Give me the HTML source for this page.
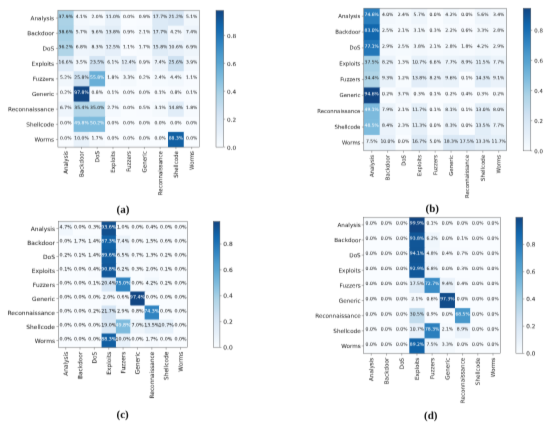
<!DOCTYPE html>
<html lang="en"><head><meta charset="utf-8"><title>Confusion matrices</title>
<style>
html,body{margin:0;padding:0;background:#fff;}
body{width:550px;height:426px;overflow:hidden;}
svg{display:block;font-family:"DejaVu Sans","Liberation Sans",sans-serif;}
text{stroke-width:0.03px;stroke-linejoin:round}
.d{fill:#1c1c1c;stroke:#1c1c1c}.l{fill:#f7fbff;stroke:#f7fbff}
</style></head><body>
<svg width="550" height="426" viewBox="0 0 550 426" shape-rendering="geometricPrecision" text-rendering="geometricPrecision">
<defs><filter id="bl" x="0" y="0" width="1" height="1" color-interpolation-filters="sRGB"><feConvolveMatrix order="3" kernelMatrix="0.0056 0.1273 0.0056 0.0292 0.6647 0.0292 0.0056 0.1273 0.0056" edgeMode="duplicate" preserveAlpha="true"/></filter></defs><g filter="url(#bl)"><rect width="550" height="426" fill="#fff"/>
<g>
<rect x="57.9" y="10.5" width="16.43" height="15.88" fill="#abd2e6"/>
<rect x="73.63" y="10.5" width="16.43" height="15.88" fill="#f3f8fd"/>
<rect x="89.37" y="10.5" width="16.43" height="15.88" fill="#f6fafe"/>
<rect x="105.1" y="10.5" width="16.43" height="15.88" fill="#e7f1fa"/>
<rect x="120.83" y="10.5" width="16.43" height="15.88" fill="#f9fcff"/>
<rect x="136.57" y="10.5" width="16.43" height="15.88" fill="#f8fbff"/>
<rect x="152.3" y="10.5" width="16.43" height="15.88" fill="#dceaf6"/>
<rect x="168.03" y="10.5" width="16.43" height="15.88" fill="#d7e6f4"/>
<rect x="183.77" y="10.5" width="15.73" height="15.88" fill="#f1f7fc"/>
<rect x="57.9" y="25.68" width="16.43" height="15.88" fill="#a8d1e6"/>
<rect x="73.63" y="25.68" width="16.43" height="15.88" fill="#f0f6fc"/>
<rect x="89.37" y="25.68" width="16.43" height="15.88" fill="#e9f2fa"/>
<rect x="105.1" y="25.68" width="16.43" height="15.88" fill="#e2eef8"/>
<rect x="120.83" y="25.68" width="16.43" height="15.88" fill="#f8fbff"/>
<rect x="136.57" y="25.68" width="16.43" height="15.88" fill="#f6fafe"/>
<rect x="152.3" y="25.68" width="16.43" height="15.88" fill="#dceaf6"/>
<rect x="168.03" y="25.68" width="16.43" height="15.88" fill="#f3f8fd"/>
<rect x="183.77" y="25.68" width="15.73" height="15.88" fill="#edf4fb"/>
<rect x="57.9" y="40.86" width="16.43" height="15.88" fill="#b1d5e8"/>
<rect x="73.63" y="40.86" width="16.43" height="15.88" fill="#eef5fc"/>
<rect x="89.37" y="40.86" width="16.43" height="15.88" fill="#ecf4fb"/>
<rect x="105.1" y="40.86" width="16.43" height="15.88" fill="#e5eff9"/>
<rect x="120.83" y="40.86" width="16.43" height="15.88" fill="#f8fbff"/>
<rect x="136.57" y="40.86" width="16.43" height="15.88" fill="#f6fafe"/>
<rect x="152.3" y="40.86" width="16.43" height="15.88" fill="#dfecf7"/>
<rect x="168.03" y="40.86" width="16.43" height="15.88" fill="#e8f1fa"/>
<rect x="183.77" y="40.86" width="15.73" height="15.88" fill="#eef5fb"/>
<rect x="57.9" y="56.03" width="16.43" height="15.88" fill="#deebf7"/>
<rect x="73.63" y="56.03" width="16.43" height="15.88" fill="#f3f8fd"/>
<rect x="89.37" y="56.03" width="16.43" height="15.88" fill="#d3e4f3"/>
<rect x="105.1" y="56.03" width="16.43" height="15.88" fill="#eff6fc"/>
<rect x="120.83" y="56.03" width="16.43" height="15.88" fill="#e5eff9"/>
<rect x="136.57" y="56.03" width="16.43" height="15.88" fill="#f8fbff"/>
<rect x="152.3" y="56.03" width="16.43" height="15.88" fill="#edf4fb"/>
<rect x="168.03" y="56.03" width="16.43" height="15.88" fill="#cee1f1"/>
<rect x="183.77" y="56.03" width="15.73" height="15.88" fill="#f3f8fd"/>
<rect x="57.9" y="71.21" width="16.43" height="15.88" fill="#f1f7fc"/>
<rect x="73.63" y="71.21" width="16.43" height="15.88" fill="#cee1f1"/>
<rect x="89.37" y="71.21" width="16.43" height="15.88" fill="#6aafd7"/>
<rect x="105.1" y="71.21" width="16.43" height="15.88" fill="#f6fafe"/>
<rect x="120.83" y="71.21" width="16.43" height="15.88" fill="#f4f9fd"/>
<rect x="136.57" y="71.21" width="16.43" height="15.88" fill="#f9fcff"/>
<rect x="152.3" y="71.21" width="16.43" height="15.88" fill="#f5fafe"/>
<rect x="168.03" y="71.21" width="16.43" height="15.88" fill="#f2f8fd"/>
<rect x="183.77" y="71.21" width="15.73" height="15.88" fill="#f8fbff"/>
<rect x="57.9" y="86.39" width="16.43" height="15.88" fill="#f9fcff"/>
<rect x="73.63" y="86.39" width="16.43" height="15.88" fill="#114582"/>
<rect x="89.37" y="86.39" width="16.43" height="15.88" fill="#f8fbff"/>
<rect x="105.1" y="86.39" width="16.43" height="15.88" fill="#f9fcff"/>
<rect x="120.83" y="86.39" width="16.43" height="15.88" fill="#f9fcff"/>
<rect x="136.57" y="86.39" width="16.43" height="15.88" fill="#f9fcff"/>
<rect x="152.3" y="86.39" width="16.43" height="15.88" fill="#f9fcff"/>
<rect x="168.03" y="86.39" width="16.43" height="15.88" fill="#f8fbff"/>
<rect x="183.77" y="86.39" width="15.73" height="15.88" fill="#f9fcff"/>
<rect x="57.9" y="101.57" width="16.43" height="15.88" fill="#eef5fc"/>
<rect x="73.63" y="101.57" width="16.43" height="15.88" fill="#b3d6e9"/>
<rect x="89.37" y="101.57" width="16.43" height="15.88" fill="#b5d7e9"/>
<rect x="105.1" y="101.57" width="16.43" height="15.88" fill="#f4f9fe"/>
<rect x="120.83" y="101.57" width="16.43" height="15.88" fill="#f9fcff"/>
<rect x="136.57" y="101.57" width="16.43" height="15.88" fill="#f8fbff"/>
<rect x="152.3" y="101.57" width="16.43" height="15.88" fill="#f4f9fd"/>
<rect x="168.03" y="101.57" width="16.43" height="15.88" fill="#e1edf8"/>
<rect x="183.77" y="101.57" width="15.73" height="15.88" fill="#f6fafe"/>
<rect x="57.9" y="116.74" width="16.43" height="15.88" fill="#f9fcff"/>
<rect x="73.63" y="116.74" width="16.43" height="15.88" fill="#7ebbdd"/>
<rect x="89.37" y="116.74" width="16.43" height="15.88" fill="#7dbbdd"/>
<rect x="105.1" y="116.74" width="16.43" height="15.88" fill="#f9fcff"/>
<rect x="120.83" y="116.74" width="16.43" height="15.88" fill="#f9fcff"/>
<rect x="136.57" y="116.74" width="16.43" height="15.88" fill="#f9fcff"/>
<rect x="152.3" y="116.74" width="16.43" height="15.88" fill="#f9fcff"/>
<rect x="168.03" y="116.74" width="16.43" height="15.88" fill="#f9fcff"/>
<rect x="183.77" y="116.74" width="15.73" height="15.88" fill="#f9fcff"/>
<rect x="57.9" y="131.92" width="16.43" height="15.18" fill="#f9fcff"/>
<rect x="73.63" y="131.92" width="16.43" height="15.18" fill="#e9f2fa"/>
<rect x="89.37" y="131.92" width="16.43" height="15.18" fill="#f6fafe"/>
<rect x="105.1" y="131.92" width="16.43" height="15.18" fill="#f9fcff"/>
<rect x="120.83" y="131.92" width="16.43" height="15.18" fill="#f9fcff"/>
<rect x="136.57" y="131.92" width="16.43" height="15.18" fill="#f9fcff"/>
<rect x="152.3" y="131.92" width="16.43" height="15.18" fill="#f9fcff"/>
<rect x="168.03" y="131.92" width="16.43" height="15.18" fill="#1160a3"/>
<rect x="183.77" y="131.92" width="15.73" height="15.18" fill="#f9fcff"/>
<rect x="57.9" y="10.5" width="141.6" height="136.6" fill="none" stroke="#555" stroke-width="0.45"/>
<g font-size="4.35" text-anchor="middle">
<text transform="translate(65.77 17.95) scale(1.04 1) rotate(.03)" class="d">37.9%</text>
<text transform="translate(81.5 17.95) scale(1.04 1) rotate(.03)" class="d">4.1%</text>
<text transform="translate(97.23 17.95) scale(1.04 1) rotate(.03)" class="d">2.0%</text>
<text transform="translate(112.97 17.95) scale(1.04 1) rotate(.03)" class="d">11.0%</text>
<text transform="translate(128.7 17.95) scale(1.04 1) rotate(.03)" class="d">0.0%</text>
<text transform="translate(144.43 17.95) scale(1.04 1) rotate(.03)" class="d">0.9%</text>
<text transform="translate(160.17 17.95) scale(1.04 1) rotate(.03)" class="d">17.7%</text>
<text transform="translate(175.9 17.95) scale(1.04 1) rotate(.03)" class="d">21.2%</text>
<text transform="translate(191.63 17.95) scale(1.04 1) rotate(.03)" class="d">5.1%</text>
<text transform="translate(65.77 33.13) scale(1.04 1) rotate(.03)" class="d">38.6%</text>
<text transform="translate(81.5 33.13) scale(1.04 1) rotate(.03)" class="d">5.7%</text>
<text transform="translate(97.23 33.13) scale(1.04 1) rotate(.03)" class="d">9.6%</text>
<text transform="translate(112.97 33.13) scale(1.04 1) rotate(.03)" class="d">13.8%</text>
<text transform="translate(128.7 33.13) scale(1.04 1) rotate(.03)" class="d">0.9%</text>
<text transform="translate(144.43 33.13) scale(1.04 1) rotate(.03)" class="d">2.1%</text>
<text transform="translate(160.17 33.13) scale(1.04 1) rotate(.03)" class="d">17.7%</text>
<text transform="translate(175.9 33.13) scale(1.04 1) rotate(.03)" class="d">4.2%</text>
<text transform="translate(191.63 33.13) scale(1.04 1) rotate(.03)" class="d">7.4%</text>
<text transform="translate(65.77 48.31) scale(1.04 1) rotate(.03)" class="d">36.2%</text>
<text transform="translate(81.5 48.31) scale(1.04 1) rotate(.03)" class="d">6.8%</text>
<text transform="translate(97.23 48.31) scale(1.04 1) rotate(.03)" class="d">8.3%</text>
<text transform="translate(112.97 48.31) scale(1.04 1) rotate(.03)" class="d">12.5%</text>
<text transform="translate(128.7 48.31) scale(1.04 1) rotate(.03)" class="d">1.1%</text>
<text transform="translate(144.43 48.31) scale(1.04 1) rotate(.03)" class="d">1.7%</text>
<text transform="translate(160.17 48.31) scale(1.04 1) rotate(.03)" class="d">15.8%</text>
<text transform="translate(175.9 48.31) scale(1.04 1) rotate(.03)" class="d">10.6%</text>
<text transform="translate(191.63 48.31) scale(1.04 1) rotate(.03)" class="d">6.9%</text>
<text transform="translate(65.77 63.49) scale(1.04 1) rotate(.03)" class="d">16.6%</text>
<text transform="translate(81.5 63.49) scale(1.04 1) rotate(.03)" class="d">3.5%</text>
<text transform="translate(97.23 63.49) scale(1.04 1) rotate(.03)" class="d">23.5%</text>
<text transform="translate(112.97 63.49) scale(1.04 1) rotate(.03)" class="d">6.1%</text>
<text transform="translate(128.7 63.49) scale(1.04 1) rotate(.03)" class="d">12.4%</text>
<text transform="translate(144.43 63.49) scale(1.04 1) rotate(.03)" class="d">0.9%</text>
<text transform="translate(160.17 63.49) scale(1.04 1) rotate(.03)" class="d">7.4%</text>
<text transform="translate(175.9 63.49) scale(1.04 1) rotate(.03)" class="d">25.6%</text>
<text transform="translate(191.63 63.49) scale(1.04 1) rotate(.03)" class="d">3.9%</text>
<text transform="translate(65.77 78.67) scale(1.04 1) rotate(.03)" class="d">5.2%</text>
<text transform="translate(81.5 78.67) scale(1.04 1) rotate(.03)" class="d">25.8%</text>
<text transform="translate(97.23 78.67) scale(1.04 1) rotate(.03)" class="l">55.8%</text>
<text transform="translate(112.97 78.67) scale(1.04 1) rotate(.03)" class="d">1.8%</text>
<text transform="translate(128.7 78.67) scale(1.04 1) rotate(.03)" class="d">3.3%</text>
<text transform="translate(144.43 78.67) scale(1.04 1) rotate(.03)" class="d">0.2%</text>
<text transform="translate(160.17 78.67) scale(1.04 1) rotate(.03)" class="d">2.4%</text>
<text transform="translate(175.9 78.67) scale(1.04 1) rotate(.03)" class="d">4.4%</text>
<text transform="translate(191.63 78.67) scale(1.04 1) rotate(.03)" class="d">1.1%</text>
<text transform="translate(65.77 93.84) scale(1.04 1) rotate(.03)" class="d">0.2%</text>
<text transform="translate(81.5 93.84) scale(1.04 1) rotate(.03)" class="l">97.8%</text>
<text transform="translate(97.23 93.84) scale(1.04 1) rotate(.03)" class="d">0.8%</text>
<text transform="translate(112.97 93.84) scale(1.04 1) rotate(.03)" class="d">0.1%</text>
<text transform="translate(128.7 93.84) scale(1.04 1) rotate(.03)" class="d">0.0%</text>
<text transform="translate(144.43 93.84) scale(1.04 1) rotate(.03)" class="d">0.0%</text>
<text transform="translate(160.17 93.84) scale(1.04 1) rotate(.03)" class="d">0.1%</text>
<text transform="translate(175.9 93.84) scale(1.04 1) rotate(.03)" class="d">0.8%</text>
<text transform="translate(191.63 93.84) scale(1.04 1) rotate(.03)" class="d">0.1%</text>
<text transform="translate(65.77 109.02) scale(1.04 1) rotate(.03)" class="d">6.7%</text>
<text transform="translate(81.5 109.02) scale(1.04 1) rotate(.03)" class="d">35.4%</text>
<text transform="translate(97.23 109.02) scale(1.04 1) rotate(.03)" class="d">35.0%</text>
<text transform="translate(112.97 109.02) scale(1.04 1) rotate(.03)" class="d">2.7%</text>
<text transform="translate(128.7 109.02) scale(1.04 1) rotate(.03)" class="d">0.0%</text>
<text transform="translate(144.43 109.02) scale(1.04 1) rotate(.03)" class="d">0.5%</text>
<text transform="translate(160.17 109.02) scale(1.04 1) rotate(.03)" class="d">3.1%</text>
<text transform="translate(175.9 109.02) scale(1.04 1) rotate(.03)" class="d">14.8%</text>
<text transform="translate(191.63 109.02) scale(1.04 1) rotate(.03)" class="d">1.8%</text>
<text transform="translate(65.77 124.2) scale(1.04 1) rotate(.03)" class="d">0.0%</text>
<text transform="translate(81.5 124.2) scale(1.04 1) rotate(.03)" class="l">49.8%</text>
<text transform="translate(97.23 124.2) scale(1.04 1) rotate(.03)" class="l">50.2%</text>
<text transform="translate(112.97 124.2) scale(1.04 1) rotate(.03)" class="d">0.0%</text>
<text transform="translate(128.7 124.2) scale(1.04 1) rotate(.03)" class="d">0.0%</text>
<text transform="translate(144.43 124.2) scale(1.04 1) rotate(.03)" class="d">0.0%</text>
<text transform="translate(160.17 124.2) scale(1.04 1) rotate(.03)" class="d">0.0%</text>
<text transform="translate(175.9 124.2) scale(1.04 1) rotate(.03)" class="d">0.0%</text>
<text transform="translate(191.63 124.2) scale(1.04 1) rotate(.03)" class="d">0.0%</text>
<text transform="translate(65.77 139.38) scale(1.04 1) rotate(.03)" class="d">0.0%</text>
<text transform="translate(81.5 139.38) scale(1.04 1) rotate(.03)" class="d">10.0%</text>
<text transform="translate(97.23 139.38) scale(1.04 1) rotate(.03)" class="d">1.7%</text>
<text transform="translate(112.97 139.38) scale(1.04 1) rotate(.03)" class="d">0.0%</text>
<text transform="translate(128.7 139.38) scale(1.04 1) rotate(.03)" class="d">0.0%</text>
<text transform="translate(144.43 139.38) scale(1.04 1) rotate(.03)" class="d">0.0%</text>
<text transform="translate(160.17 139.38) scale(1.04 1) rotate(.03)" class="d">0.0%</text>
<text transform="translate(175.9 139.38) scale(1.04 1) rotate(.03)" class="l">88.3%</text>
<text transform="translate(191.63 139.38) scale(1.04 1) rotate(.03)" class="d">0.0%</text>
</g>
<g font-size="5.5" class="d" text-anchor="end">
<text transform="translate(54.1 20.17) scale(1.04 1) rotate(.03)">Analysis</text>
<text transform="translate(54.1 35.35) scale(1.04 1) rotate(.03)">Backdoor</text>
<text transform="translate(54.1 50.52) scale(1.04 1) rotate(.03)">DoS</text>
<text transform="translate(54.1 65.7) scale(1.04 1) rotate(.03)">Exploits</text>
<text transform="translate(54.1 80.88) scale(1.04 1) rotate(.03)">Fuzzers</text>
<text transform="translate(54.1 96.06) scale(1.04 1) rotate(.03)">Generic</text>
<text transform="translate(54.1 111.24) scale(1.04 1) rotate(.03)">Reconnaissance</text>
<text transform="translate(54.1 126.41) scale(1.04 1) rotate(.03)">Shellcode</text>
<text transform="translate(54.1 141.59) scale(1.04 1) rotate(.03)">Worms</text>
</g>
<path d="M55.92 18.09h1.98M55.92 33.27h1.98M55.92 48.44h1.98M55.92 63.62h1.98M55.92 78.8h1.98M55.92 93.98h1.98M55.92 109.16h1.98M55.92 124.33h1.98M55.92 139.51h1.98M65.77 147.1v1.98M81.5 147.1v1.98M97.23 147.1v1.98M112.97 147.1v1.98M128.7 147.1v1.98M144.43 147.1v1.98M160.17 147.1v1.98M175.9 147.1v1.98M191.63 147.1v1.98" stroke="#555" stroke-width="0.45" fill="none"/>
<g font-size="5.5" class="d" text-anchor="end">
<text transform="translate(67.82 151.1) scale(1.04 1) rotate(-90.03)">Analysis</text>
<text transform="translate(83.55 151.1) scale(1.04 1) rotate(-90.03)">Backdoor</text>
<text transform="translate(99.28 151.1) scale(1.04 1) rotate(-90.03)">DoS</text>
<text transform="translate(115.02 151.1) scale(1.04 1) rotate(-90.03)">Exploits</text>
<text transform="translate(130.75 151.1) scale(1.04 1) rotate(-90.03)">Fuzzers</text>
<text transform="translate(146.48 151.1) scale(1.04 1) rotate(-90.03)">Generic</text>
<text transform="translate(162.22 151.1) scale(1.04 1) rotate(-90.03)">Reconnaissance</text>
<text transform="translate(177.95 151.1) scale(1.04 1) rotate(-90.03)">Shellcode</text>
<text transform="translate(193.68 151.1) scale(1.04 1) rotate(-90.03)">Worms</text>
</g>
<defs><linearGradient id="ga" x1="0" y1="0" x2="0" y2="1"><stop offset="0" stop-color="#114582"/><stop offset="0.03" stop-color="#114d8c"/><stop offset="0.06" stop-color="#115697"/><stop offset="0.09" stop-color="#115fa2"/><stop offset="0.12" stop-color="#1167ad"/><stop offset="0.16" stop-color="#1a6fb3"/><stop offset="0.19" stop-color="#2377b8"/><stop offset="0.22" stop-color="#2b7fbd"/><stop offset="0.25" stop-color="#3386c3"/><stop offset="0.28" stop-color="#3d8ec6"/><stop offset="0.31" stop-color="#4696ca"/><stop offset="0.34" stop-color="#4f9dce"/><stop offset="0.38" stop-color="#58a4d1"/><stop offset="0.41" stop-color="#63abd4"/><stop offset="0.44" stop-color="#6db1d8"/><stop offset="0.47" stop-color="#77b7db"/><stop offset="0.5" stop-color="#81bdde"/><stop offset="0.53" stop-color="#8dc3e1"/><stop offset="0.56" stop-color="#98c9e3"/><stop offset="0.59" stop-color="#a4cfe5"/><stop offset="0.62" stop-color="#afd4e7"/><stop offset="0.66" stop-color="#b8d8ea"/><stop offset="0.69" stop-color="#c0dbed"/><stop offset="0.72" stop-color="#c9dff0"/><stop offset="0.75" stop-color="#d1e2f2"/><stop offset="0.78" stop-color="#d6e6f4"/><stop offset="0.81" stop-color="#dbe9f6"/><stop offset="0.84" stop-color="#e0ecf7"/><stop offset="0.88" stop-color="#e5eff9"/><stop offset="0.91" stop-color="#eaf2fa"/><stop offset="0.94" stop-color="#eff6fc"/><stop offset="0.97" stop-color="#f4f9fd"/><stop offset="1" stop-color="#f9fcff"/></linearGradient></defs>
<rect x="216" y="10.5" width="7.7" height="136.6" fill="url(#ga)" stroke="#555" stroke-width="0.45"/>
<g font-size="5.5" class="d">
<text transform="translate(227.1 149.68) scale(1.04 1) rotate(.03)">0.0</text>
<text transform="translate(227.1 121.75) scale(1.04 1) rotate(.03)">0.2</text>
<text transform="translate(227.1 93.81) scale(1.04 1) rotate(.03)">0.4</text>
<text transform="translate(227.1 65.88) scale(1.04 1) rotate(.03)">0.6</text>
<text transform="translate(227.1 37.94) scale(1.04 1) rotate(.03)">0.8</text>
</g>
<path d="M223.7 147.1h1.48M223.7 119.17h1.48M223.7 91.23h1.48M223.7 63.3h1.48M223.7 35.36h1.48" stroke="#555" stroke-width="0.45" fill="none"/>
<text x="122.9" y="212.8" font-family="'Liberation Serif', 'DejaVu Serif', serif" font-weight="bold" font-size="11" text-anchor="middle" fill="#111">(a)</text>
</g>
<g>
<rect x="363.8" y="8.3" width="16.57" height="16.53" fill="#2a7ebd"/>
<rect x="379.67" y="8.3" width="16.57" height="16.53" fill="#f3f8fd"/>
<rect x="395.53" y="8.3" width="16.57" height="16.53" fill="#f5fafe"/>
<rect x="411.4" y="8.3" width="16.57" height="16.53" fill="#eff6fc"/>
<rect x="427.27" y="8.3" width="16.57" height="16.53" fill="#f9fcff"/>
<rect x="443.13" y="8.3" width="16.57" height="16.53" fill="#f2f8fd"/>
<rect x="459" y="8.3" width="16.57" height="16.53" fill="#f9fcff"/>
<rect x="474.87" y="8.3" width="16.57" height="16.53" fill="#eff6fc"/>
<rect x="490.73" y="8.3" width="15.87" height="16.53" fill="#f3f8fd"/>
<rect x="363.8" y="24.13" width="16.57" height="16.53" fill="#1167ad"/>
<rect x="379.67" y="24.13" width="16.57" height="16.53" fill="#f5fafe"/>
<rect x="395.53" y="24.13" width="16.57" height="16.53" fill="#f6fafe"/>
<rect x="411.4" y="24.13" width="16.57" height="16.53" fill="#f4f9fd"/>
<rect x="427.27" y="24.13" width="16.57" height="16.53" fill="#f9fcff"/>
<rect x="443.13" y="24.13" width="16.57" height="16.53" fill="#f6fafe"/>
<rect x="459" y="24.13" width="16.57" height="16.53" fill="#f8fbff"/>
<rect x="474.87" y="24.13" width="16.57" height="16.53" fill="#f4f9fd"/>
<rect x="490.73" y="24.13" width="15.87" height="16.53" fill="#f4f9fe"/>
<rect x="363.8" y="39.97" width="16.57" height="16.53" fill="#2377b8"/>
<rect x="379.67" y="39.97" width="16.57" height="16.53" fill="#f4f9fe"/>
<rect x="395.53" y="39.97" width="16.57" height="16.53" fill="#f5fafe"/>
<rect x="411.4" y="39.97" width="16.57" height="16.53" fill="#f3f8fd"/>
<rect x="427.27" y="39.97" width="16.57" height="16.53" fill="#f6fafe"/>
<rect x="443.13" y="39.97" width="16.57" height="16.53" fill="#f4f9fe"/>
<rect x="459" y="39.97" width="16.57" height="16.53" fill="#f6fafe"/>
<rect x="474.87" y="39.97" width="16.57" height="16.53" fill="#f2f8fd"/>
<rect x="490.73" y="39.97" width="15.87" height="16.53" fill="#f4f9fe"/>
<rect x="363.8" y="55.8" width="16.57" height="16.53" fill="#a8d1e6"/>
<rect x="379.67" y="55.8" width="16.57" height="16.53" fill="#ebf3fb"/>
<rect x="395.53" y="55.8" width="16.57" height="16.53" fill="#f7fbfe"/>
<rect x="411.4" y="55.8" width="16.57" height="16.53" fill="#e7f1fa"/>
<rect x="427.27" y="55.8" width="16.57" height="16.53" fill="#eef5fc"/>
<rect x="443.13" y="55.8" width="16.57" height="16.53" fill="#ecf4fb"/>
<rect x="459" y="55.8" width="16.57" height="16.53" fill="#eaf2fa"/>
<rect x="474.87" y="55.8" width="16.57" height="16.53" fill="#e5f0f9"/>
<rect x="490.73" y="55.8" width="15.87" height="16.53" fill="#ecf4fb"/>
<rect x="363.8" y="71.63" width="16.57" height="16.53" fill="#b2d6e8"/>
<rect x="379.67" y="71.63" width="16.57" height="16.53" fill="#e9f2fa"/>
<rect x="395.53" y="71.63" width="16.57" height="16.53" fill="#f7fbfe"/>
<rect x="411.4" y="71.63" width="16.57" height="16.53" fill="#e2edf8"/>
<rect x="427.27" y="71.63" width="16.57" height="16.53" fill="#ebf3fb"/>
<rect x="443.13" y="71.63" width="16.57" height="16.53" fill="#e9f2fa"/>
<rect x="459" y="71.63" width="16.57" height="16.53" fill="#f9fcff"/>
<rect x="474.87" y="71.63" width="16.57" height="16.53" fill="#e1edf8"/>
<rect x="490.73" y="71.63" width="15.87" height="16.53" fill="#eaf2fa"/>
<rect x="363.8" y="87.47" width="16.57" height="16.53" fill="#114582"/>
<rect x="379.67" y="87.47" width="16.57" height="16.53" fill="#f9fcff"/>
<rect x="395.53" y="87.47" width="16.57" height="16.53" fill="#f3f8fd"/>
<rect x="411.4" y="87.47" width="16.57" height="16.53" fill="#f9fcff"/>
<rect x="427.27" y="87.47" width="16.57" height="16.53" fill="#f9fcff"/>
<rect x="443.13" y="87.47" width="16.57" height="16.53" fill="#f9fcff"/>
<rect x="459" y="87.47" width="16.57" height="16.53" fill="#f8fbff"/>
<rect x="474.87" y="87.47" width="16.57" height="16.53" fill="#f9fcff"/>
<rect x="490.73" y="87.47" width="15.87" height="16.53" fill="#f9fcff"/>
<rect x="363.8" y="103.3" width="16.57" height="16.53" fill="#7cbadd"/>
<rect x="379.67" y="103.3" width="16.57" height="16.53" fill="#ecf4fb"/>
<rect x="395.53" y="103.3" width="16.57" height="16.53" fill="#f6fafe"/>
<rect x="411.4" y="103.3" width="16.57" height="16.53" fill="#e5f0f9"/>
<rect x="427.27" y="103.3" width="16.57" height="16.53" fill="#f9fcff"/>
<rect x="443.13" y="103.3" width="16.57" height="16.53" fill="#ecf4fb"/>
<rect x="459" y="103.3" width="16.57" height="16.53" fill="#f9fcff"/>
<rect x="474.87" y="103.3" width="16.57" height="16.53" fill="#e3eef8"/>
<rect x="490.73" y="103.3" width="15.87" height="16.53" fill="#ecf4fb"/>
<rect x="363.8" y="119.13" width="16.57" height="16.53" fill="#7dbbdd"/>
<rect x="379.67" y="119.13" width="16.57" height="16.53" fill="#ebf3fb"/>
<rect x="395.53" y="119.13" width="16.57" height="16.53" fill="#f5fafe"/>
<rect x="411.4" y="119.13" width="16.57" height="16.53" fill="#e6f0f9"/>
<rect x="427.27" y="119.13" width="16.57" height="16.53" fill="#f9fcff"/>
<rect x="443.13" y="119.13" width="16.57" height="16.53" fill="#ebf3fb"/>
<rect x="459" y="119.13" width="16.57" height="16.53" fill="#f9fcff"/>
<rect x="474.87" y="119.13" width="16.57" height="16.53" fill="#e2eef8"/>
<rect x="490.73" y="119.13" width="15.87" height="16.53" fill="#ecf4fb"/>
<rect x="363.8" y="134.97" width="16.57" height="15.83" fill="#ecf4fb"/>
<rect x="379.67" y="134.97" width="16.57" height="15.83" fill="#e8f1fa"/>
<rect x="395.53" y="134.97" width="16.57" height="15.83" fill="#f9fcff"/>
<rect x="411.4" y="134.97" width="16.57" height="15.83" fill="#ddeaf6"/>
<rect x="427.27" y="134.97" width="16.57" height="15.83" fill="#f1f7fc"/>
<rect x="443.13" y="134.97" width="16.57" height="15.83" fill="#dae8f5"/>
<rect x="459" y="134.97" width="16.57" height="15.83" fill="#dce9f6"/>
<rect x="474.87" y="134.97" width="16.57" height="15.83" fill="#e3eef8"/>
<rect x="490.73" y="134.97" width="15.87" height="15.83" fill="#e5f0f9"/>
<rect x="363.8" y="8.3" width="142.8" height="142.5" fill="none" stroke="#555" stroke-width="0.45"/>
<g font-size="4.5" text-anchor="middle">
<text transform="translate(371.73 16.04) scale(1 1) rotate(.03)" class="l">74.6%</text>
<text transform="translate(387.6 16.04) scale(1 1) rotate(.03)" class="d">4.0%</text>
<text transform="translate(403.47 16.04) scale(1 1) rotate(.03)" class="d">2.4%</text>
<text transform="translate(419.33 16.04) scale(1 1) rotate(.03)" class="d">5.7%</text>
<text transform="translate(435.2 16.04) scale(1 1) rotate(.03)" class="d">0.0%</text>
<text transform="translate(451.07 16.04) scale(1 1) rotate(.03)" class="d">4.2%</text>
<text transform="translate(466.93 16.04) scale(1 1) rotate(.03)" class="d">0.0%</text>
<text transform="translate(482.8 16.04) scale(1 1) rotate(.03)" class="d">5.6%</text>
<text transform="translate(498.67 16.04) scale(1 1) rotate(.03)" class="d">3.4%</text>
<text transform="translate(371.73 31.87) scale(1 1) rotate(.03)" class="l">83.0%</text>
<text transform="translate(387.6 31.87) scale(1 1) rotate(.03)" class="d">2.5%</text>
<text transform="translate(403.47 31.87) scale(1 1) rotate(.03)" class="d">2.1%</text>
<text transform="translate(419.33 31.87) scale(1 1) rotate(.03)" class="d">3.1%</text>
<text transform="translate(435.2 31.87) scale(1 1) rotate(.03)" class="d">0.3%</text>
<text transform="translate(451.07 31.87) scale(1 1) rotate(.03)" class="d">2.2%</text>
<text transform="translate(466.93 31.87) scale(1 1) rotate(.03)" class="d">0.6%</text>
<text transform="translate(482.8 31.87) scale(1 1) rotate(.03)" class="d">3.3%</text>
<text transform="translate(498.67 31.87) scale(1 1) rotate(.03)" class="d">2.8%</text>
<text transform="translate(371.73 47.7) scale(1 1) rotate(.03)" class="l">77.1%</text>
<text transform="translate(387.6 47.7) scale(1 1) rotate(.03)" class="d">2.9%</text>
<text transform="translate(403.47 47.7) scale(1 1) rotate(.03)" class="d">2.5%</text>
<text transform="translate(419.33 47.7) scale(1 1) rotate(.03)" class="d">3.8%</text>
<text transform="translate(435.2 47.7) scale(1 1) rotate(.03)" class="d">2.1%</text>
<text transform="translate(451.07 47.7) scale(1 1) rotate(.03)" class="d">2.8%</text>
<text transform="translate(466.93 47.7) scale(1 1) rotate(.03)" class="d">1.8%</text>
<text transform="translate(482.8 47.7) scale(1 1) rotate(.03)" class="d">4.2%</text>
<text transform="translate(498.67 47.7) scale(1 1) rotate(.03)" class="d">2.9%</text>
<text transform="translate(371.73 63.54) scale(1 1) rotate(.03)" class="d">37.5%</text>
<text transform="translate(387.6 63.54) scale(1 1) rotate(.03)" class="d">8.2%</text>
<text transform="translate(403.47 63.54) scale(1 1) rotate(.03)" class="d">1.3%</text>
<text transform="translate(419.33 63.54) scale(1 1) rotate(.03)" class="d">10.7%</text>
<text transform="translate(435.2 63.54) scale(1 1) rotate(.03)" class="d">6.6%</text>
<text transform="translate(451.07 63.54) scale(1 1) rotate(.03)" class="d">7.7%</text>
<text transform="translate(466.93 63.54) scale(1 1) rotate(.03)" class="d">8.9%</text>
<text transform="translate(482.8 63.54) scale(1 1) rotate(.03)" class="d">11.5%</text>
<text transform="translate(498.67 63.54) scale(1 1) rotate(.03)" class="d">7.7%</text>
<text transform="translate(371.73 79.37) scale(1 1) rotate(.03)" class="d">34.4%</text>
<text transform="translate(387.6 79.37) scale(1 1) rotate(.03)" class="d">9.3%</text>
<text transform="translate(403.47 79.37) scale(1 1) rotate(.03)" class="d">1.2%</text>
<text transform="translate(419.33 79.37) scale(1 1) rotate(.03)" class="d">13.8%</text>
<text transform="translate(435.2 79.37) scale(1 1) rotate(.03)" class="d">8.2%</text>
<text transform="translate(451.07 79.37) scale(1 1) rotate(.03)" class="d">9.6%</text>
<text transform="translate(466.93 79.37) scale(1 1) rotate(.03)" class="d">0.1%</text>
<text transform="translate(482.8 79.37) scale(1 1) rotate(.03)" class="d">14.3%</text>
<text transform="translate(498.67 79.37) scale(1 1) rotate(.03)" class="d">9.1%</text>
<text transform="translate(371.73 95.2) scale(1 1) rotate(.03)" class="l">94.6%</text>
<text transform="translate(387.6 95.2) scale(1 1) rotate(.03)" class="d">0.2%</text>
<text transform="translate(403.47 95.2) scale(1 1) rotate(.03)" class="d">3.7%</text>
<text transform="translate(419.33 95.2) scale(1 1) rotate(.03)" class="d">0.3%</text>
<text transform="translate(435.2 95.2) scale(1 1) rotate(.03)" class="d">0.1%</text>
<text transform="translate(451.07 95.2) scale(1 1) rotate(.03)" class="d">0.2%</text>
<text transform="translate(466.93 95.2) scale(1 1) rotate(.03)" class="d">0.4%</text>
<text transform="translate(482.8 95.2) scale(1 1) rotate(.03)" class="d">0.3%</text>
<text transform="translate(498.67 95.2) scale(1 1) rotate(.03)" class="d">0.2%</text>
<text transform="translate(371.73 111.04) scale(1 1) rotate(.03)" class="l">49.1%</text>
<text transform="translate(387.6 111.04) scale(1 1) rotate(.03)" class="d">7.9%</text>
<text transform="translate(403.47 111.04) scale(1 1) rotate(.03)" class="d">2.1%</text>
<text transform="translate(419.33 111.04) scale(1 1) rotate(.03)" class="d">11.7%</text>
<text transform="translate(435.2 111.04) scale(1 1) rotate(.03)" class="d">0.1%</text>
<text transform="translate(451.07 111.04) scale(1 1) rotate(.03)" class="d">8.1%</text>
<text transform="translate(466.93 111.04) scale(1 1) rotate(.03)" class="d">0.1%</text>
<text transform="translate(482.8 111.04) scale(1 1) rotate(.03)" class="d">13.0%</text>
<text transform="translate(498.67 111.04) scale(1 1) rotate(.03)" class="d">8.0%</text>
<text transform="translate(371.73 126.87) scale(1 1) rotate(.03)" class="l">48.5%</text>
<text transform="translate(387.6 126.87) scale(1 1) rotate(.03)" class="d">8.4%</text>
<text transform="translate(403.47 126.87) scale(1 1) rotate(.03)" class="d">2.3%</text>
<text transform="translate(419.33 126.87) scale(1 1) rotate(.03)" class="d">11.3%</text>
<text transform="translate(435.2 126.87) scale(1 1) rotate(.03)" class="d">0.0%</text>
<text transform="translate(451.07 126.87) scale(1 1) rotate(.03)" class="d">8.3%</text>
<text transform="translate(466.93 126.87) scale(1 1) rotate(.03)" class="d">0.0%</text>
<text transform="translate(482.8 126.87) scale(1 1) rotate(.03)" class="d">13.5%</text>
<text transform="translate(498.67 126.87) scale(1 1) rotate(.03)" class="d">7.7%</text>
<text transform="translate(371.73 142.7) scale(1 1) rotate(.03)" class="d">7.5%</text>
<text transform="translate(387.6 142.7) scale(1 1) rotate(.03)" class="d">10.0%</text>
<text transform="translate(403.47 142.7) scale(1 1) rotate(.03)" class="d">0.0%</text>
<text transform="translate(419.33 142.7) scale(1 1) rotate(.03)" class="d">16.7%</text>
<text transform="translate(435.2 142.7) scale(1 1) rotate(.03)" class="d">5.0%</text>
<text transform="translate(451.07 142.7) scale(1 1) rotate(.03)" class="d">18.3%</text>
<text transform="translate(466.93 142.7) scale(1 1) rotate(.03)" class="d">17.5%</text>
<text transform="translate(482.8 142.7) scale(1 1) rotate(.03)" class="d">13.3%</text>
<text transform="translate(498.67 142.7) scale(1 1) rotate(.03)" class="d">11.7%</text>
</g>
<g font-size="5.36" class="d" text-anchor="end">
<text transform="translate(360.4 17.95) scale(1 1) rotate(.03)">Analysis</text>
<text transform="translate(360.4 33.78) scale(1 1) rotate(.03)">Backdoor</text>
<text transform="translate(360.4 49.61) scale(1 1) rotate(.03)">DoS</text>
<text transform="translate(360.4 65.45) scale(1 1) rotate(.03)">Exploits</text>
<text transform="translate(360.4 81.28) scale(1 1) rotate(.03)">Fuzzers</text>
<text transform="translate(360.4 97.11) scale(1 1) rotate(.03)">Generic</text>
<text transform="translate(360.4 112.95) scale(1 1) rotate(.03)">Reconnaissance</text>
<text transform="translate(360.4 128.78) scale(1 1) rotate(.03)">Shellcode</text>
<text transform="translate(360.4 144.61) scale(1 1) rotate(.03)">Worms</text>
</g>
<path d="M361.87 16.22h1.93M361.87 32.05h1.93M361.87 47.88h1.93M361.87 63.72h1.93M361.87 79.55h1.93M361.87 95.38h1.93M361.87 111.22h1.93M361.87 127.05h1.93M361.87 142.88h1.93M371.73 150.8v1.93M387.6 150.8v1.93M403.47 150.8v1.93M419.33 150.8v1.93M435.2 150.8v1.93M451.07 150.8v1.93M466.93 150.8v1.93M482.8 150.8v1.93M498.67 150.8v1.93" stroke="#555" stroke-width="0.45" fill="none"/>
<g font-size="5.36" class="d" text-anchor="end">
<text transform="translate(373.66 155) scale(1 1) rotate(-90.03)">Analysis</text>
<text transform="translate(389.53 155) scale(1 1) rotate(-90.03)">Backdoor</text>
<text transform="translate(405.4 155) scale(1 1) rotate(-90.03)">DoS</text>
<text transform="translate(421.26 155) scale(1 1) rotate(-90.03)">Exploits</text>
<text transform="translate(437.13 155) scale(1 1) rotate(-90.03)">Fuzzers</text>
<text transform="translate(453 155) scale(1 1) rotate(-90.03)">Generic</text>
<text transform="translate(468.86 155) scale(1 1) rotate(-90.03)">Reconnaissance</text>
<text transform="translate(484.73 155) scale(1 1) rotate(-90.03)">Shellcode</text>
<text transform="translate(500.6 155) scale(1 1) rotate(-90.03)">Worms</text>
</g>
<defs><linearGradient id="gb" x1="0" y1="0" x2="0" y2="1"><stop offset="0" stop-color="#114582"/><stop offset="0.03" stop-color="#114d8c"/><stop offset="0.06" stop-color="#115697"/><stop offset="0.09" stop-color="#115fa2"/><stop offset="0.12" stop-color="#1167ad"/><stop offset="0.16" stop-color="#1a6fb3"/><stop offset="0.19" stop-color="#2377b8"/><stop offset="0.22" stop-color="#2b7fbd"/><stop offset="0.25" stop-color="#3386c3"/><stop offset="0.28" stop-color="#3d8ec6"/><stop offset="0.31" stop-color="#4696ca"/><stop offset="0.34" stop-color="#4f9dce"/><stop offset="0.38" stop-color="#58a4d1"/><stop offset="0.41" stop-color="#63abd4"/><stop offset="0.44" stop-color="#6db1d8"/><stop offset="0.47" stop-color="#77b7db"/><stop offset="0.5" stop-color="#81bdde"/><stop offset="0.53" stop-color="#8dc3e1"/><stop offset="0.56" stop-color="#98c9e3"/><stop offset="0.59" stop-color="#a4cfe5"/><stop offset="0.62" stop-color="#afd4e7"/><stop offset="0.66" stop-color="#b8d8ea"/><stop offset="0.69" stop-color="#c0dbed"/><stop offset="0.72" stop-color="#c9dff0"/><stop offset="0.75" stop-color="#d1e2f2"/><stop offset="0.78" stop-color="#d6e6f4"/><stop offset="0.81" stop-color="#dbe9f6"/><stop offset="0.84" stop-color="#e0ecf7"/><stop offset="0.88" stop-color="#e5eff9"/><stop offset="0.91" stop-color="#eaf2fa"/><stop offset="0.94" stop-color="#eff6fc"/><stop offset="0.97" stop-color="#f4f9fd"/><stop offset="1" stop-color="#f9fcff"/></linearGradient></defs>
<rect x="523.2" y="8.3" width="7.6" height="142.5" fill="url(#gb)" stroke="#555" stroke-width="0.45"/>
<g font-size="5.36" class="d">
<text transform="translate(534.3 153.13) scale(1 1) rotate(.03)">0.0</text>
<text transform="translate(534.3 123) scale(1 1) rotate(.03)">0.2</text>
<text transform="translate(534.3 92.88) scale(1 1) rotate(.03)">0.4</text>
<text transform="translate(534.3 62.75) scale(1 1) rotate(.03)">0.6</text>
<text transform="translate(534.3 32.62) scale(1 1) rotate(.03)">0.8</text>
</g>
<path d="M530.8 150.8h1.45M530.8 120.67h1.45M530.8 90.55h1.45M530.8 60.42h1.45M530.8 30.29h1.45" stroke="#555" stroke-width="0.45" fill="none"/>
<text x="432.3" y="212" font-family="'Liberation Serif', 'DejaVu Serif', serif" font-weight="bold" font-size="11" text-anchor="middle" fill="#111">(b)</text>
</g>
<g>
<rect x="58.5" y="221.5" width="15.06" height="14.7" fill="#f1f7fd"/>
<rect x="72.86" y="221.5" width="15.06" height="14.7" fill="#f9fcff"/>
<rect x="87.21" y="221.5" width="15.06" height="14.7" fill="#f9fcff"/>
<rect x="101.57" y="221.5" width="15.06" height="14.7" fill="#11508e"/>
<rect x="115.92" y="221.5" width="15.06" height="14.7" fill="#f8fbff"/>
<rect x="130.28" y="221.5" width="15.06" height="14.7" fill="#f9fcff"/>
<rect x="144.63" y="221.5" width="15.06" height="14.7" fill="#f8fbff"/>
<rect x="158.99" y="221.5" width="15.06" height="14.7" fill="#f9fcff"/>
<rect x="173.34" y="221.5" width="14.36" height="14.7" fill="#f9fcff"/>
<rect x="58.5" y="235.5" width="15.06" height="14.7" fill="#f9fcff"/>
<rect x="72.86" y="235.5" width="15.06" height="14.7" fill="#f6fafe"/>
<rect x="87.21" y="235.5" width="15.06" height="14.7" fill="#f7fbfe"/>
<rect x="101.57" y="235.5" width="15.06" height="14.7" fill="#1162a6"/>
<rect x="115.92" y="235.5" width="15.06" height="14.7" fill="#edf4fb"/>
<rect x="130.28" y="235.5" width="15.06" height="14.7" fill="#f9fcff"/>
<rect x="144.63" y="235.5" width="15.06" height="14.7" fill="#f7fbfe"/>
<rect x="158.99" y="235.5" width="15.06" height="14.7" fill="#f8fbff"/>
<rect x="173.34" y="235.5" width="14.36" height="14.7" fill="#f9fcff"/>
<rect x="58.5" y="249.5" width="15.06" height="14.7" fill="#f9fcff"/>
<rect x="72.86" y="249.5" width="15.06" height="14.7" fill="#f9fcff"/>
<rect x="87.21" y="249.5" width="15.06" height="14.7" fill="#f7fbfe"/>
<rect x="101.57" y="249.5" width="15.06" height="14.7" fill="#115c9e"/>
<rect x="115.92" y="249.5" width="15.06" height="14.7" fill="#eef5fc"/>
<rect x="130.28" y="249.5" width="15.06" height="14.7" fill="#f8fbff"/>
<rect x="144.63" y="249.5" width="15.06" height="14.7" fill="#f7fbfe"/>
<rect x="158.99" y="249.5" width="15.06" height="14.7" fill="#f9fcff"/>
<rect x="173.34" y="249.5" width="14.36" height="14.7" fill="#f9fcff"/>
<rect x="58.5" y="263.5" width="15.06" height="14.7" fill="#f9fcff"/>
<rect x="72.86" y="263.5" width="15.06" height="14.7" fill="#f9fcff"/>
<rect x="87.21" y="263.5" width="15.06" height="14.7" fill="#f8fbff"/>
<rect x="101.57" y="263.5" width="15.06" height="14.7" fill="#11589a"/>
<rect x="115.92" y="263.5" width="15.06" height="14.7" fill="#eff6fc"/>
<rect x="130.28" y="263.5" width="15.06" height="14.7" fill="#f9fcff"/>
<rect x="144.63" y="263.5" width="15.06" height="14.7" fill="#f6fafe"/>
<rect x="158.99" y="263.5" width="15.06" height="14.7" fill="#f9fcff"/>
<rect x="173.34" y="263.5" width="14.36" height="14.7" fill="#f9fcff"/>
<rect x="58.5" y="277.5" width="15.06" height="14.7" fill="#f9fcff"/>
<rect x="72.86" y="277.5" width="15.06" height="14.7" fill="#f9fcff"/>
<rect x="87.21" y="277.5" width="15.06" height="14.7" fill="#f9fcff"/>
<rect x="101.57" y="277.5" width="15.06" height="14.7" fill="#d8e7f5"/>
<rect x="115.92" y="277.5" width="15.06" height="14.7" fill="#2e82bf"/>
<rect x="130.28" y="277.5" width="15.06" height="14.7" fill="#f9fcff"/>
<rect x="144.63" y="277.5" width="15.06" height="14.7" fill="#f2f8fd"/>
<rect x="158.99" y="277.5" width="15.06" height="14.7" fill="#f9fcff"/>
<rect x="173.34" y="277.5" width="14.36" height="14.7" fill="#f9fcff"/>
<rect x="58.5" y="291.5" width="15.06" height="14.7" fill="#f9fcff"/>
<rect x="72.86" y="291.5" width="15.06" height="14.7" fill="#f9fcff"/>
<rect x="87.21" y="291.5" width="15.06" height="14.7" fill="#f9fcff"/>
<rect x="101.57" y="291.5" width="15.06" height="14.7" fill="#f6fafe"/>
<rect x="115.92" y="291.5" width="15.06" height="14.7" fill="#f8fbff"/>
<rect x="130.28" y="291.5" width="15.06" height="14.7" fill="#114582"/>
<rect x="144.63" y="291.5" width="15.06" height="14.7" fill="#f9fcff"/>
<rect x="158.99" y="291.5" width="15.06" height="14.7" fill="#f9fcff"/>
<rect x="173.34" y="291.5" width="14.36" height="14.7" fill="#f9fcff"/>
<rect x="58.5" y="305.5" width="15.06" height="14.7" fill="#f9fcff"/>
<rect x="72.86" y="305.5" width="15.06" height="14.7" fill="#f9fcff"/>
<rect x="87.21" y="305.5" width="15.06" height="14.7" fill="#f9fcff"/>
<rect x="101.57" y="305.5" width="15.06" height="14.7" fill="#d6e5f4"/>
<rect x="115.92" y="305.5" width="15.06" height="14.7" fill="#f4f9fe"/>
<rect x="130.28" y="305.5" width="15.06" height="14.7" fill="#f8fbff"/>
<rect x="144.63" y="305.5" width="15.06" height="14.7" fill="#3084c1"/>
<rect x="158.99" y="305.5" width="15.06" height="14.7" fill="#f9fcff"/>
<rect x="173.34" y="305.5" width="14.36" height="14.7" fill="#f9fcff"/>
<rect x="58.5" y="319.5" width="15.06" height="14.7" fill="#f9fcff"/>
<rect x="72.86" y="319.5" width="15.06" height="14.7" fill="#f9fcff"/>
<rect x="87.21" y="319.5" width="15.06" height="14.7" fill="#f9fcff"/>
<rect x="101.57" y="319.5" width="15.06" height="14.7" fill="#dae8f5"/>
<rect x="115.92" y="319.5" width="15.06" height="14.7" fill="#7ebbdd"/>
<rect x="130.28" y="319.5" width="15.06" height="14.7" fill="#eef5fb"/>
<rect x="144.63" y="319.5" width="15.06" height="14.7" fill="#e3eef8"/>
<rect x="158.99" y="319.5" width="15.06" height="14.7" fill="#e7f1fa"/>
<rect x="173.34" y="319.5" width="14.36" height="14.7" fill="#f9fcff"/>
<rect x="58.5" y="333.5" width="15.06" height="14" fill="#f9fcff"/>
<rect x="72.86" y="333.5" width="15.06" height="14" fill="#f9fcff"/>
<rect x="87.21" y="333.5" width="15.06" height="14" fill="#f9fcff"/>
<rect x="101.57" y="333.5" width="15.06" height="14" fill="#115fa2"/>
<rect x="115.92" y="333.5" width="15.06" height="14" fill="#e9f2fa"/>
<rect x="130.28" y="333.5" width="15.06" height="14" fill="#f9fcff"/>
<rect x="144.63" y="333.5" width="15.06" height="14" fill="#f6fafe"/>
<rect x="158.99" y="333.5" width="15.06" height="14" fill="#f9fcff"/>
<rect x="173.34" y="333.5" width="14.36" height="14" fill="#f9fcff"/>
<rect x="58.5" y="221.5" width="129.2" height="126" fill="none" stroke="#555" stroke-width="0.45"/>
<g font-size="4.7" text-anchor="middle">
<text transform="translate(65.68 228.54) scale(1.02 1) rotate(.03)" class="d">4.7%</text>
<text transform="translate(80.03 228.54) scale(1.02 1) rotate(.03)" class="d">0.0%</text>
<text transform="translate(94.39 228.54) scale(1.02 1) rotate(.03)" class="d">0.3%</text>
<text transform="translate(108.74 228.54) scale(1.02 1) rotate(.03)" class="l">93.6%</text>
<text transform="translate(123.1 228.54) scale(1.02 1) rotate(.03)" class="d">1.0%</text>
<text transform="translate(137.46 228.54) scale(1.02 1) rotate(.03)" class="d">0.0%</text>
<text transform="translate(151.81 228.54) scale(1.02 1) rotate(.03)" class="d">0.4%</text>
<text transform="translate(166.17 228.54) scale(1.02 1) rotate(.03)" class="d">0.0%</text>
<text transform="translate(180.52 228.54) scale(1.02 1) rotate(.03)" class="d">0.0%</text>
<text transform="translate(65.68 242.54) scale(1.02 1) rotate(.03)" class="d">0.0%</text>
<text transform="translate(80.03 242.54) scale(1.02 1) rotate(.03)" class="d">1.7%</text>
<text transform="translate(94.39 242.54) scale(1.02 1) rotate(.03)" class="d">1.4%</text>
<text transform="translate(108.74 242.54) scale(1.02 1) rotate(.03)" class="l">87.3%</text>
<text transform="translate(123.1 242.54) scale(1.02 1) rotate(.03)" class="d">7.4%</text>
<text transform="translate(137.46 242.54) scale(1.02 1) rotate(.03)" class="d">0.0%</text>
<text transform="translate(151.81 242.54) scale(1.02 1) rotate(.03)" class="d">1.5%</text>
<text transform="translate(166.17 242.54) scale(1.02 1) rotate(.03)" class="d">0.6%</text>
<text transform="translate(180.52 242.54) scale(1.02 1) rotate(.03)" class="d">0.0%</text>
<text transform="translate(65.68 256.54) scale(1.02 1) rotate(.03)" class="d">0.2%</text>
<text transform="translate(80.03 256.54) scale(1.02 1) rotate(.03)" class="d">0.1%</text>
<text transform="translate(94.39 256.54) scale(1.02 1) rotate(.03)" class="d">1.4%</text>
<text transform="translate(108.74 256.54) scale(1.02 1) rotate(.03)" class="l">89.6%</text>
<text transform="translate(123.1 256.54) scale(1.02 1) rotate(.03)" class="d">6.5%</text>
<text transform="translate(137.46 256.54) scale(1.02 1) rotate(.03)" class="d">0.7%</text>
<text transform="translate(151.81 256.54) scale(1.02 1) rotate(.03)" class="d">1.3%</text>
<text transform="translate(166.17 256.54) scale(1.02 1) rotate(.03)" class="d">0.2%</text>
<text transform="translate(180.52 256.54) scale(1.02 1) rotate(.03)" class="d">0.0%</text>
<text transform="translate(65.68 270.54) scale(1.02 1) rotate(.03)" class="d">0.1%</text>
<text transform="translate(80.03 270.54) scale(1.02 1) rotate(.03)" class="d">0.0%</text>
<text transform="translate(94.39 270.54) scale(1.02 1) rotate(.03)" class="d">0.4%</text>
<text transform="translate(108.74 270.54) scale(1.02 1) rotate(.03)" class="l">90.8%</text>
<text transform="translate(123.1 270.54) scale(1.02 1) rotate(.03)" class="d">6.2%</text>
<text transform="translate(137.46 270.54) scale(1.02 1) rotate(.03)" class="d">0.3%</text>
<text transform="translate(151.81 270.54) scale(1.02 1) rotate(.03)" class="d">2.0%</text>
<text transform="translate(166.17 270.54) scale(1.02 1) rotate(.03)" class="d">0.1%</text>
<text transform="translate(180.52 270.54) scale(1.02 1) rotate(.03)" class="d">0.0%</text>
<text transform="translate(65.68 284.54) scale(1.02 1) rotate(.03)" class="d">0.0%</text>
<text transform="translate(80.03 284.54) scale(1.02 1) rotate(.03)" class="d">0.0%</text>
<text transform="translate(94.39 284.54) scale(1.02 1) rotate(.03)" class="d">0.1%</text>
<text transform="translate(108.74 284.54) scale(1.02 1) rotate(.03)" class="d">20.4%</text>
<text transform="translate(123.1 284.54) scale(1.02 1) rotate(.03)" class="l">75.0%</text>
<text transform="translate(137.46 284.54) scale(1.02 1) rotate(.03)" class="d">0.0%</text>
<text transform="translate(151.81 284.54) scale(1.02 1) rotate(.03)" class="d">4.2%</text>
<text transform="translate(166.17 284.54) scale(1.02 1) rotate(.03)" class="d">0.2%</text>
<text transform="translate(180.52 284.54) scale(1.02 1) rotate(.03)" class="d">0.0%</text>
<text transform="translate(65.68 298.54) scale(1.02 1) rotate(.03)" class="d">0.0%</text>
<text transform="translate(80.03 298.54) scale(1.02 1) rotate(.03)" class="d">0.0%</text>
<text transform="translate(94.39 298.54) scale(1.02 1) rotate(.03)" class="d">0.0%</text>
<text transform="translate(108.74 298.54) scale(1.02 1) rotate(.03)" class="d">2.0%</text>
<text transform="translate(123.1 298.54) scale(1.02 1) rotate(.03)" class="d">0.6%</text>
<text transform="translate(137.46 298.54) scale(1.02 1) rotate(.03)" class="l">97.4%</text>
<text transform="translate(151.81 298.54) scale(1.02 1) rotate(.03)" class="d">0.0%</text>
<text transform="translate(166.17 298.54) scale(1.02 1) rotate(.03)" class="d">0.0%</text>
<text transform="translate(180.52 298.54) scale(1.02 1) rotate(.03)" class="d">0.0%</text>
<text transform="translate(65.68 312.54) scale(1.02 1) rotate(.03)" class="d">0.0%</text>
<text transform="translate(80.03 312.54) scale(1.02 1) rotate(.03)" class="d">0.0%</text>
<text transform="translate(94.39 312.54) scale(1.02 1) rotate(.03)" class="d">0.2%</text>
<text transform="translate(108.74 312.54) scale(1.02 1) rotate(.03)" class="d">21.7%</text>
<text transform="translate(123.1 312.54) scale(1.02 1) rotate(.03)" class="d">2.9%</text>
<text transform="translate(137.46 312.54) scale(1.02 1) rotate(.03)" class="d">0.8%</text>
<text transform="translate(151.81 312.54) scale(1.02 1) rotate(.03)" class="l">74.3%</text>
<text transform="translate(166.17 312.54) scale(1.02 1) rotate(.03)" class="d">0.0%</text>
<text transform="translate(180.52 312.54) scale(1.02 1) rotate(.03)" class="d">0.0%</text>
<text transform="translate(65.68 326.54) scale(1.02 1) rotate(.03)" class="d">0.0%</text>
<text transform="translate(80.03 326.54) scale(1.02 1) rotate(.03)" class="d">0.0%</text>
<text transform="translate(94.39 326.54) scale(1.02 1) rotate(.03)" class="d">0.0%</text>
<text transform="translate(108.74 326.54) scale(1.02 1) rotate(.03)" class="d">19.0%</text>
<text transform="translate(123.1 326.54) scale(1.02 1) rotate(.03)" class="l">49.8%</text>
<text transform="translate(137.46 326.54) scale(1.02 1) rotate(.03)" class="d">7.0%</text>
<text transform="translate(151.81 326.54) scale(1.02 1) rotate(.03)" class="d">13.5%</text>
<text transform="translate(166.17 326.54) scale(1.02 1) rotate(.03)" class="d">10.7%</text>
<text transform="translate(180.52 326.54) scale(1.02 1) rotate(.03)" class="d">0.0%</text>
<text transform="translate(65.68 340.54) scale(1.02 1) rotate(.03)" class="d">0.0%</text>
<text transform="translate(80.03 340.54) scale(1.02 1) rotate(.03)" class="d">0.0%</text>
<text transform="translate(94.39 340.54) scale(1.02 1) rotate(.03)" class="d">0.0%</text>
<text transform="translate(108.74 340.54) scale(1.02 1) rotate(.03)" class="l">88.3%</text>
<text transform="translate(123.1 340.54) scale(1.02 1) rotate(.03)" class="d">10.0%</text>
<text transform="translate(137.46 340.54) scale(1.02 1) rotate(.03)" class="d">0.0%</text>
<text transform="translate(151.81 340.54) scale(1.02 1) rotate(.03)" class="d">1.7%</text>
<text transform="translate(166.17 340.54) scale(1.02 1) rotate(.03)" class="d">0.0%</text>
<text transform="translate(180.52 340.54) scale(1.02 1) rotate(.03)" class="d">0.0%</text>
</g>
<g font-size="5.8" class="d" text-anchor="end">
<text transform="translate(55 231.09) scale(1.02 1) rotate(.03)">Analysis</text>
<text transform="translate(55 245.09) scale(1.02 1) rotate(.03)">Backdoor</text>
<text transform="translate(55 259.09) scale(1.02 1) rotate(.03)">DoS</text>
<text transform="translate(55 273.09) scale(1.02 1) rotate(.03)">Exploits</text>
<text transform="translate(55 287.09) scale(1.02 1) rotate(.03)">Fuzzers</text>
<text transform="translate(55 301.09) scale(1.02 1) rotate(.03)">Generic</text>
<text transform="translate(55 315.09) scale(1.02 1) rotate(.03)">Reconnaissance</text>
<text transform="translate(55 329.09) scale(1.02 1) rotate(.03)">Shellcode</text>
<text transform="translate(55 343.09) scale(1.02 1) rotate(.03)">Worms</text>
</g>
<path d="M56.41 228.5h2.09M56.41 242.5h2.09M56.41 256.5h2.09M56.41 270.5h2.09M56.41 284.5h2.09M56.41 298.5h2.09M56.41 312.5h2.09M56.41 326.5h2.09M56.41 340.5h2.09M65.68 347.5v2.09M80.03 347.5v2.09M94.39 347.5v2.09M108.74 347.5v2.09M123.1 347.5v2.09M137.46 347.5v2.09M151.81 347.5v2.09M166.17 347.5v2.09M180.52 347.5v2.09" stroke="#555" stroke-width="0.45" fill="none"/>
<g font-size="5.8" class="d" text-anchor="end">
<text transform="translate(67.82 351.8) scale(1.02 1) rotate(-90.03)">Analysis</text>
<text transform="translate(82.17 351.8) scale(1.02 1) rotate(-90.03)">Backdoor</text>
<text transform="translate(96.53 351.8) scale(1.02 1) rotate(-90.03)">DoS</text>
<text transform="translate(110.88 351.8) scale(1.02 1) rotate(-90.03)">Exploits</text>
<text transform="translate(125.24 351.8) scale(1.02 1) rotate(-90.03)">Fuzzers</text>
<text transform="translate(139.6 351.8) scale(1.02 1) rotate(-90.03)">Generic</text>
<text transform="translate(153.95 351.8) scale(1.02 1) rotate(-90.03)">Reconnaissance</text>
<text transform="translate(168.31 351.8) scale(1.02 1) rotate(-90.03)">Shellcode</text>
<text transform="translate(182.66 351.8) scale(1.02 1) rotate(-90.03)">Worms</text>
</g>
<defs><linearGradient id="gc" x1="0" y1="0" x2="0" y2="1"><stop offset="0" stop-color="#114582"/><stop offset="0.03" stop-color="#114d8c"/><stop offset="0.06" stop-color="#115697"/><stop offset="0.09" stop-color="#115fa2"/><stop offset="0.12" stop-color="#1167ad"/><stop offset="0.16" stop-color="#1a6fb3"/><stop offset="0.19" stop-color="#2377b8"/><stop offset="0.22" stop-color="#2b7fbd"/><stop offset="0.25" stop-color="#3386c3"/><stop offset="0.28" stop-color="#3d8ec6"/><stop offset="0.31" stop-color="#4696ca"/><stop offset="0.34" stop-color="#4f9dce"/><stop offset="0.38" stop-color="#58a4d1"/><stop offset="0.41" stop-color="#63abd4"/><stop offset="0.44" stop-color="#6db1d8"/><stop offset="0.47" stop-color="#77b7db"/><stop offset="0.5" stop-color="#81bdde"/><stop offset="0.53" stop-color="#8dc3e1"/><stop offset="0.56" stop-color="#98c9e3"/><stop offset="0.59" stop-color="#a4cfe5"/><stop offset="0.62" stop-color="#afd4e7"/><stop offset="0.66" stop-color="#b8d8ea"/><stop offset="0.69" stop-color="#c0dbed"/><stop offset="0.72" stop-color="#c9dff0"/><stop offset="0.75" stop-color="#d1e2f2"/><stop offset="0.78" stop-color="#d6e6f4"/><stop offset="0.81" stop-color="#dbe9f6"/><stop offset="0.84" stop-color="#e0ecf7"/><stop offset="0.88" stop-color="#e5eff9"/><stop offset="0.91" stop-color="#eaf2fa"/><stop offset="0.94" stop-color="#eff6fc"/><stop offset="0.97" stop-color="#f4f9fd"/><stop offset="1" stop-color="#f9fcff"/></linearGradient></defs>
<rect x="213.3" y="221.5" width="6.6" height="126" fill="url(#gc)" stroke="#555" stroke-width="0.45"/>
<g font-size="5.8" class="d">
<text transform="translate(223.3 349.59) scale(1.02 1) rotate(.03)">0.0</text>
<text transform="translate(223.3 323.72) scale(1.02 1) rotate(.03)">0.2</text>
<text transform="translate(223.3 297.84) scale(1.02 1) rotate(.03)">0.4</text>
<text transform="translate(223.3 271.97) scale(1.02 1) rotate(.03)">0.6</text>
<text transform="translate(223.3 246.1) scale(1.02 1) rotate(.03)">0.8</text>
</g>
<path d="M219.9 347.5h1.57M219.9 321.63h1.57M219.9 295.75h1.57M219.9 269.88h1.57M219.9 244.01h1.57" stroke="#555" stroke-width="0.45" fill="none"/>
<text x="122.7" y="418" font-family="'Liberation Serif', 'DejaVu Serif', serif" font-weight="bold" font-size="11" text-anchor="middle" fill="#111">(c)</text>
</g>
<g>
<rect x="363.7" y="217.3" width="15.91" height="15.83" fill="#f9fcff"/>
<rect x="378.91" y="217.3" width="15.91" height="15.83" fill="#f9fcff"/>
<rect x="394.12" y="217.3" width="15.91" height="15.83" fill="#f9fcff"/>
<rect x="409.33" y="217.3" width="15.91" height="15.83" fill="#114582"/>
<rect x="424.54" y="217.3" width="15.91" height="15.83" fill="#f9fcff"/>
<rect x="439.76" y="217.3" width="15.91" height="15.83" fill="#f9fcff"/>
<rect x="454.97" y="217.3" width="15.91" height="15.83" fill="#f9fcff"/>
<rect x="470.18" y="217.3" width="15.91" height="15.83" fill="#f9fcff"/>
<rect x="485.39" y="217.3" width="15.21" height="15.83" fill="#f9fcff"/>
<rect x="363.7" y="232.43" width="15.91" height="15.83" fill="#f9fcff"/>
<rect x="378.91" y="232.43" width="15.91" height="15.83" fill="#f9fcff"/>
<rect x="394.12" y="232.43" width="15.91" height="15.83" fill="#f9fcff"/>
<rect x="409.33" y="232.43" width="15.91" height="15.83" fill="#115697"/>
<rect x="424.54" y="232.43" width="15.91" height="15.83" fill="#eff6fc"/>
<rect x="439.76" y="232.43" width="15.91" height="15.83" fill="#f9fcff"/>
<rect x="454.97" y="232.43" width="15.91" height="15.83" fill="#f9fcff"/>
<rect x="470.18" y="232.43" width="15.91" height="15.83" fill="#f9fcff"/>
<rect x="485.39" y="232.43" width="15.21" height="15.83" fill="#f9fcff"/>
<rect x="363.7" y="247.57" width="15.91" height="15.83" fill="#f9fcff"/>
<rect x="378.91" y="247.57" width="15.91" height="15.83" fill="#f9fcff"/>
<rect x="394.12" y="247.57" width="15.91" height="15.83" fill="#f9fcff"/>
<rect x="409.33" y="247.57" width="15.91" height="15.83" fill="#115595"/>
<rect x="424.54" y="247.57" width="15.91" height="15.83" fill="#f1f7fd"/>
<rect x="439.76" y="247.57" width="15.91" height="15.83" fill="#f8fbff"/>
<rect x="454.97" y="247.57" width="15.91" height="15.83" fill="#f8fbff"/>
<rect x="470.18" y="247.57" width="15.91" height="15.83" fill="#f9fcff"/>
<rect x="485.39" y="247.57" width="15.21" height="15.83" fill="#f9fcff"/>
<rect x="363.7" y="262.7" width="15.91" height="15.83" fill="#f9fcff"/>
<rect x="378.91" y="262.7" width="15.91" height="15.83" fill="#f9fcff"/>
<rect x="394.12" y="262.7" width="15.91" height="15.83" fill="#f9fcff"/>
<rect x="409.33" y="262.7" width="15.91" height="15.83" fill="#11589a"/>
<rect x="424.54" y="262.7" width="15.91" height="15.83" fill="#eef5fc"/>
<rect x="439.76" y="262.7" width="15.91" height="15.83" fill="#f9fcff"/>
<rect x="454.97" y="262.7" width="15.91" height="15.83" fill="#f9fcff"/>
<rect x="470.18" y="262.7" width="15.91" height="15.83" fill="#f9fcff"/>
<rect x="485.39" y="262.7" width="15.21" height="15.83" fill="#f9fcff"/>
<rect x="363.7" y="277.83" width="15.91" height="15.83" fill="#f9fcff"/>
<rect x="378.91" y="277.83" width="15.91" height="15.83" fill="#f9fcff"/>
<rect x="394.12" y="277.83" width="15.91" height="15.83" fill="#f9fcff"/>
<rect x="409.33" y="277.83" width="15.91" height="15.83" fill="#ddeaf6"/>
<rect x="424.54" y="277.83" width="15.91" height="15.83" fill="#3a8cc6"/>
<rect x="439.76" y="277.83" width="15.91" height="15.83" fill="#eaf2fa"/>
<rect x="454.97" y="277.83" width="15.91" height="15.83" fill="#f8fbff"/>
<rect x="470.18" y="277.83" width="15.91" height="15.83" fill="#f9fcff"/>
<rect x="485.39" y="277.83" width="15.21" height="15.83" fill="#f9fcff"/>
<rect x="363.7" y="292.97" width="15.91" height="15.83" fill="#f9fcff"/>
<rect x="378.91" y="292.97" width="15.91" height="15.83" fill="#f9fcff"/>
<rect x="394.12" y="292.97" width="15.91" height="15.83" fill="#f9fcff"/>
<rect x="409.33" y="292.97" width="15.91" height="15.83" fill="#f6fafe"/>
<rect x="424.54" y="292.97" width="15.91" height="15.83" fill="#f8fbff"/>
<rect x="439.76" y="292.97" width="15.91" height="15.83" fill="#114c8a"/>
<rect x="454.97" y="292.97" width="15.91" height="15.83" fill="#f9fcff"/>
<rect x="470.18" y="292.97" width="15.91" height="15.83" fill="#f9fcff"/>
<rect x="485.39" y="292.97" width="15.21" height="15.83" fill="#f9fcff"/>
<rect x="363.7" y="308.1" width="15.91" height="15.83" fill="#f9fcff"/>
<rect x="378.91" y="308.1" width="15.91" height="15.83" fill="#f9fcff"/>
<rect x="394.12" y="308.1" width="15.91" height="15.83" fill="#f9fcff"/>
<rect x="409.33" y="308.1" width="15.91" height="15.83" fill="#c2dced"/>
<rect x="424.54" y="308.1" width="15.91" height="15.83" fill="#f8fbff"/>
<rect x="439.76" y="308.1" width="15.91" height="15.83" fill="#f9fcff"/>
<rect x="454.97" y="308.1" width="15.91" height="15.83" fill="#4797ca"/>
<rect x="470.18" y="308.1" width="15.91" height="15.83" fill="#f9fcff"/>
<rect x="485.39" y="308.1" width="15.21" height="15.83" fill="#f9fcff"/>
<rect x="363.7" y="323.23" width="15.91" height="15.83" fill="#f9fcff"/>
<rect x="378.91" y="323.23" width="15.91" height="15.83" fill="#f9fcff"/>
<rect x="394.12" y="323.23" width="15.91" height="15.83" fill="#f9fcff"/>
<rect x="409.33" y="323.23" width="15.91" height="15.83" fill="#e8f1fa"/>
<rect x="424.54" y="323.23" width="15.91" height="15.83" fill="#2b7fbd"/>
<rect x="439.76" y="323.23" width="15.91" height="15.83" fill="#f6fafe"/>
<rect x="454.97" y="323.23" width="15.91" height="15.83" fill="#ebf3fb"/>
<rect x="470.18" y="323.23" width="15.91" height="15.83" fill="#f9fcff"/>
<rect x="485.39" y="323.23" width="15.21" height="15.83" fill="#f9fcff"/>
<rect x="363.7" y="338.37" width="15.91" height="15.13" fill="#f9fcff"/>
<rect x="378.91" y="338.37" width="15.91" height="15.13" fill="#f9fcff"/>
<rect x="394.12" y="338.37" width="15.91" height="15.13" fill="#f9fcff"/>
<rect x="409.33" y="338.37" width="15.91" height="15.13" fill="#1163a7"/>
<rect x="424.54" y="338.37" width="15.91" height="15.13" fill="#edf4fb"/>
<rect x="439.76" y="338.37" width="15.91" height="15.13" fill="#f4f9fd"/>
<rect x="454.97" y="338.37" width="15.91" height="15.13" fill="#f9fcff"/>
<rect x="470.18" y="338.37" width="15.91" height="15.13" fill="#f9fcff"/>
<rect x="485.39" y="338.37" width="15.21" height="15.13" fill="#f9fcff"/>
<rect x="363.7" y="217.3" width="136.9" height="136.2" fill="none" stroke="#555" stroke-width="0.45"/>
<g font-size="4.5" text-anchor="middle">
<text transform="translate(371.31 224.59) scale(1 1) rotate(.03)" class="d">0.0%</text>
<text transform="translate(386.52 224.59) scale(1 1) rotate(.03)" class="d">0.0%</text>
<text transform="translate(401.73 224.59) scale(1 1) rotate(.03)" class="d">0.0%</text>
<text transform="translate(416.94 224.59) scale(1 1) rotate(.03)" class="l">99.9%</text>
<text transform="translate(432.15 224.59) scale(1 1) rotate(.03)" class="d">0.1%</text>
<text transform="translate(447.36 224.59) scale(1 1) rotate(.03)" class="d">0.0%</text>
<text transform="translate(462.57 224.59) scale(1 1) rotate(.03)" class="d">0.0%</text>
<text transform="translate(477.78 224.59) scale(1 1) rotate(.03)" class="d">0.0%</text>
<text transform="translate(492.99 224.59) scale(1 1) rotate(.03)" class="d">0.0%</text>
<text transform="translate(371.31 239.72) scale(1 1) rotate(.03)" class="d">0.0%</text>
<text transform="translate(386.52 239.72) scale(1 1) rotate(.03)" class="d">0.0%</text>
<text transform="translate(401.73 239.72) scale(1 1) rotate(.03)" class="d">0.0%</text>
<text transform="translate(416.94 239.72) scale(1 1) rotate(.03)" class="l">93.8%</text>
<text transform="translate(432.15 239.72) scale(1 1) rotate(.03)" class="d">6.2%</text>
<text transform="translate(447.36 239.72) scale(1 1) rotate(.03)" class="d">0.0%</text>
<text transform="translate(462.57 239.72) scale(1 1) rotate(.03)" class="d">0.1%</text>
<text transform="translate(477.78 239.72) scale(1 1) rotate(.03)" class="d">0.0%</text>
<text transform="translate(492.99 239.72) scale(1 1) rotate(.03)" class="d">0.0%</text>
<text transform="translate(371.31 254.85) scale(1 1) rotate(.03)" class="d">0.0%</text>
<text transform="translate(386.52 254.85) scale(1 1) rotate(.03)" class="d">0.0%</text>
<text transform="translate(401.73 254.85) scale(1 1) rotate(.03)" class="d">0.0%</text>
<text transform="translate(416.94 254.85) scale(1 1) rotate(.03)" class="l">94.1%</text>
<text transform="translate(432.15 254.85) scale(1 1) rotate(.03)" class="d">4.8%</text>
<text transform="translate(447.36 254.85) scale(1 1) rotate(.03)" class="d">0.4%</text>
<text transform="translate(462.57 254.85) scale(1 1) rotate(.03)" class="d">0.7%</text>
<text transform="translate(477.78 254.85) scale(1 1) rotate(.03)" class="d">0.0%</text>
<text transform="translate(492.99 254.85) scale(1 1) rotate(.03)" class="d">0.0%</text>
<text transform="translate(371.31 269.99) scale(1 1) rotate(.03)" class="d">0.0%</text>
<text transform="translate(386.52 269.99) scale(1 1) rotate(.03)" class="d">0.0%</text>
<text transform="translate(401.73 269.99) scale(1 1) rotate(.03)" class="d">0.0%</text>
<text transform="translate(416.94 269.99) scale(1 1) rotate(.03)" class="l">92.9%</text>
<text transform="translate(432.15 269.99) scale(1 1) rotate(.03)" class="d">6.8%</text>
<text transform="translate(447.36 269.99) scale(1 1) rotate(.03)" class="d">0.0%</text>
<text transform="translate(462.57 269.99) scale(1 1) rotate(.03)" class="d">0.3%</text>
<text transform="translate(477.78 269.99) scale(1 1) rotate(.03)" class="d">0.0%</text>
<text transform="translate(492.99 269.99) scale(1 1) rotate(.03)" class="d">0.0%</text>
<text transform="translate(371.31 285.12) scale(1 1) rotate(.03)" class="d">0.0%</text>
<text transform="translate(386.52 285.12) scale(1 1) rotate(.03)" class="d">0.0%</text>
<text transform="translate(401.73 285.12) scale(1 1) rotate(.03)" class="d">0.0%</text>
<text transform="translate(416.94 285.12) scale(1 1) rotate(.03)" class="d">17.5%</text>
<text transform="translate(432.15 285.12) scale(1 1) rotate(.03)" class="l">72.7%</text>
<text transform="translate(447.36 285.12) scale(1 1) rotate(.03)" class="d">9.4%</text>
<text transform="translate(462.57 285.12) scale(1 1) rotate(.03)" class="d">0.4%</text>
<text transform="translate(477.78 285.12) scale(1 1) rotate(.03)" class="d">0.0%</text>
<text transform="translate(492.99 285.12) scale(1 1) rotate(.03)" class="d">0.0%</text>
<text transform="translate(371.31 300.25) scale(1 1) rotate(.03)" class="d">0.0%</text>
<text transform="translate(386.52 300.25) scale(1 1) rotate(.03)" class="d">0.0%</text>
<text transform="translate(401.73 300.25) scale(1 1) rotate(.03)" class="d">0.0%</text>
<text transform="translate(416.94 300.25) scale(1 1) rotate(.03)" class="d">2.1%</text>
<text transform="translate(432.15 300.25) scale(1 1) rotate(.03)" class="d">0.6%</text>
<text transform="translate(447.36 300.25) scale(1 1) rotate(.03)" class="l">97.3%</text>
<text transform="translate(462.57 300.25) scale(1 1) rotate(.03)" class="d">0.0%</text>
<text transform="translate(477.78 300.25) scale(1 1) rotate(.03)" class="d">0.0%</text>
<text transform="translate(492.99 300.25) scale(1 1) rotate(.03)" class="d">0.0%</text>
<text transform="translate(371.31 315.39) scale(1 1) rotate(.03)" class="d">0.0%</text>
<text transform="translate(386.52 315.39) scale(1 1) rotate(.03)" class="d">0.0%</text>
<text transform="translate(401.73 315.39) scale(1 1) rotate(.03)" class="d">0.0%</text>
<text transform="translate(416.94 315.39) scale(1 1) rotate(.03)" class="d">30.5%</text>
<text transform="translate(432.15 315.39) scale(1 1) rotate(.03)" class="d">0.9%</text>
<text transform="translate(447.36 315.39) scale(1 1) rotate(.03)" class="d">0.0%</text>
<text transform="translate(462.57 315.39) scale(1 1) rotate(.03)" class="l">68.5%</text>
<text transform="translate(477.78 315.39) scale(1 1) rotate(.03)" class="d">0.0%</text>
<text transform="translate(492.99 315.39) scale(1 1) rotate(.03)" class="d">0.0%</text>
<text transform="translate(371.31 330.52) scale(1 1) rotate(.03)" class="d">0.0%</text>
<text transform="translate(386.52 330.52) scale(1 1) rotate(.03)" class="d">0.0%</text>
<text transform="translate(401.73 330.52) scale(1 1) rotate(.03)" class="d">0.0%</text>
<text transform="translate(416.94 330.52) scale(1 1) rotate(.03)" class="d">10.7%</text>
<text transform="translate(432.15 330.52) scale(1 1) rotate(.03)" class="l">78.3%</text>
<text transform="translate(447.36 330.52) scale(1 1) rotate(.03)" class="d">2.1%</text>
<text transform="translate(462.57 330.52) scale(1 1) rotate(.03)" class="d">8.9%</text>
<text transform="translate(477.78 330.52) scale(1 1) rotate(.03)" class="d">0.0%</text>
<text transform="translate(492.99 330.52) scale(1 1) rotate(.03)" class="d">0.0%</text>
<text transform="translate(371.31 345.65) scale(1 1) rotate(.03)" class="d">0.0%</text>
<text transform="translate(386.52 345.65) scale(1 1) rotate(.03)" class="d">0.0%</text>
<text transform="translate(401.73 345.65) scale(1 1) rotate(.03)" class="d">0.0%</text>
<text transform="translate(416.94 345.65) scale(1 1) rotate(.03)" class="l">89.2%</text>
<text transform="translate(432.15 345.65) scale(1 1) rotate(.03)" class="d">7.5%</text>
<text transform="translate(447.36 345.65) scale(1 1) rotate(.03)" class="d">3.3%</text>
<text transform="translate(462.57 345.65) scale(1 1) rotate(.03)" class="d">0.0%</text>
<text transform="translate(477.78 345.65) scale(1 1) rotate(.03)" class="d">0.0%</text>
<text transform="translate(492.99 345.65) scale(1 1) rotate(.03)" class="d">0.0%</text>
</g>
<g font-size="5.65" class="d" text-anchor="end">
<text transform="translate(360.7 227) scale(1 1) rotate(.03)">Analysis</text>
<text transform="translate(360.7 242.13) scale(1 1) rotate(.03)">Backdoor</text>
<text transform="translate(360.7 257.27) scale(1 1) rotate(.03)">DoS</text>
<text transform="translate(360.7 272.4) scale(1 1) rotate(.03)">Exploits</text>
<text transform="translate(360.7 287.53) scale(1 1) rotate(.03)">Fuzzers</text>
<text transform="translate(360.7 302.67) scale(1 1) rotate(.03)">Generic</text>
<text transform="translate(360.7 317.8) scale(1 1) rotate(.03)">Reconnaissance</text>
<text transform="translate(360.7 332.93) scale(1 1) rotate(.03)">Shellcode</text>
<text transform="translate(360.7 348.07) scale(1 1) rotate(.03)">Worms</text>
</g>
<path d="M361.67 224.87h2.03M361.67 240h2.03M361.67 255.13h2.03M361.67 270.27h2.03M361.67 285.4h2.03M361.67 300.53h2.03M361.67 315.67h2.03M361.67 330.8h2.03M361.67 345.93h2.03M371.31 353.5v2.03M386.52 353.5v2.03M401.73 353.5v2.03M416.94 353.5v2.03M432.15 353.5v2.03M447.36 353.5v2.03M462.57 353.5v2.03M477.78 353.5v2.03M492.99 353.5v2.03" stroke="#555" stroke-width="0.45" fill="none"/>
<g font-size="5.65" class="d" text-anchor="end">
<text transform="translate(373.34 357.8) scale(1 1) rotate(-90.03)">Analysis</text>
<text transform="translate(388.55 357.8) scale(1 1) rotate(-90.03)">Backdoor</text>
<text transform="translate(403.76 357.8) scale(1 1) rotate(-90.03)">DoS</text>
<text transform="translate(418.97 357.8) scale(1 1) rotate(-90.03)">Exploits</text>
<text transform="translate(434.18 357.8) scale(1 1) rotate(-90.03)">Fuzzers</text>
<text transform="translate(449.4 357.8) scale(1 1) rotate(-90.03)">Generic</text>
<text transform="translate(464.61 357.8) scale(1 1) rotate(-90.03)">Reconnaissance</text>
<text transform="translate(479.82 357.8) scale(1 1) rotate(-90.03)">Shellcode</text>
<text transform="translate(495.03 357.8) scale(1 1) rotate(-90.03)">Worms</text>
</g>
<defs><linearGradient id="gd" x1="0" y1="0" x2="0" y2="1"><stop offset="0" stop-color="#114582"/><stop offset="0.03" stop-color="#114d8c"/><stop offset="0.06" stop-color="#115697"/><stop offset="0.09" stop-color="#115fa2"/><stop offset="0.12" stop-color="#1167ad"/><stop offset="0.16" stop-color="#1a6fb3"/><stop offset="0.19" stop-color="#2377b8"/><stop offset="0.22" stop-color="#2b7fbd"/><stop offset="0.25" stop-color="#3386c3"/><stop offset="0.28" stop-color="#3d8ec6"/><stop offset="0.31" stop-color="#4696ca"/><stop offset="0.34" stop-color="#4f9dce"/><stop offset="0.38" stop-color="#58a4d1"/><stop offset="0.41" stop-color="#63abd4"/><stop offset="0.44" stop-color="#6db1d8"/><stop offset="0.47" stop-color="#77b7db"/><stop offset="0.5" stop-color="#81bdde"/><stop offset="0.53" stop-color="#8dc3e1"/><stop offset="0.56" stop-color="#98c9e3"/><stop offset="0.59" stop-color="#a4cfe5"/><stop offset="0.62" stop-color="#afd4e7"/><stop offset="0.66" stop-color="#b8d8ea"/><stop offset="0.69" stop-color="#c0dbed"/><stop offset="0.72" stop-color="#c9dff0"/><stop offset="0.75" stop-color="#d1e2f2"/><stop offset="0.78" stop-color="#d6e6f4"/><stop offset="0.81" stop-color="#dbe9f6"/><stop offset="0.84" stop-color="#e0ecf7"/><stop offset="0.88" stop-color="#e5eff9"/><stop offset="0.91" stop-color="#eaf2fa"/><stop offset="0.94" stop-color="#eff6fc"/><stop offset="0.97" stop-color="#f4f9fd"/><stop offset="1" stop-color="#f9fcff"/></linearGradient></defs>
<rect x="515.9" y="217.3" width="6.9" height="136.2" fill="url(#gd)" stroke="#555" stroke-width="0.45"/>
<g font-size="5.65" class="d">
<text transform="translate(526.3 355.53) scale(1 1) rotate(.03)">0.0</text>
<text transform="translate(526.3 328.27) scale(1 1) rotate(.03)">0.2</text>
<text transform="translate(526.3 301) scale(1 1) rotate(.03)">0.4</text>
<text transform="translate(526.3 273.73) scale(1 1) rotate(.03)">0.6</text>
<text transform="translate(526.3 246.46) scale(1 1) rotate(.03)">0.8</text>
</g>
<path d="M522.8 353.5h1.53M522.8 326.23h1.53M522.8 298.97h1.53M522.8 271.7h1.53M522.8 244.43h1.53" stroke="#555" stroke-width="0.45" fill="none"/>
<text x="430.7" y="418.6" font-family="'Liberation Serif', 'DejaVu Serif', serif" font-weight="bold" font-size="11" text-anchor="middle" fill="#111">(d)</text>
</g>
</g></svg>
</body></html>
